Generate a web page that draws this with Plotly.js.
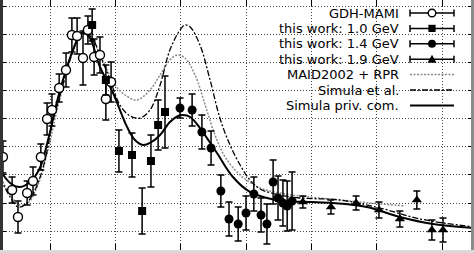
<!DOCTYPE html>
<html>
<head>
<meta charset="utf-8">
<script src="https://cdn.plot.ly/plotly-3.0.1.min.js"></script>
<style>
  html, body { margin: 0; padding: 0; background: #fff; }
  #chart { width: 474px; height: 253px; }
</style>
</head>
<body>
<div id="chart"></div>
<script>
// Photon energy (MeV) and helicity difference sigma_3/2 - sigma_1/2 (microbarn)

// GDH-MAMI
const mamiE   = [56, 84, 102, 130, 148, 172, 191, 206, 228, 249, 267, 283, 301, 316, 335, 353, 371, 387];
const mamiS   = [81.8, 23.1, -24.9, 17.8, 39.1, 81.8, 149.3, 165.3, 204.4, 236.4, 298.7, 296.9, 257.8, 307.6, 259.6, 263.1, 184.9, 215.1];
const mamiErr = [28.4, 23.1, 28.4, 21.3, 24.9, 23.1, 28.4, 28.4, 24.9, 30.2, 30.2, 32.0, 48.0, 24.9, 32.0, 32.0, 37.3, 35.6];

// this work: 1.0 GeV
const w10E   = [329, 371, 411, 451, 482, 509, 531, 552];
const w10S   = [316.4, 218.7, 92.4, 85.3, -14.2, 74.7, 138.7, 161.8];
const w10Err = [28.4, 26.7, 37.3, 39.1, 40.9, 46.2, 44.4, 64.0];

// this work: 1.4 GeV
const w14E   = [598, 635, 665, 693, 723, 748, 776, 800, 824, 846, 864, 883, 898, 913, 926, 941];
const w14S   = [168.9, 165.3, 126.2, 97.8, 21.3, -28.4, -37.3, -17.8, 16.0, -21.3, -37.3, 37.3, 8.9, 0.0, -5.3, 3.6];
const w14Err = [17.8, 28.4, 30.2, 30.2, 28.4, 30.2, 30.2, 30.2, 30.2, 30.2, 35.6, 39.1, 39.1, 40.9, 44.4, 51.6];

// this work: 1.9 GeV
const w19E   = [974, 1060, 1137, 1207, 1271, 1323, 1369, 1403];
const w19S   = [1.8, -7.1, 0.0, -12.4, -28.4, 5.3, -48.0, -48.0];
const w19Err = [10.7, 12.4, 12.4, 14.2, 14.2, 16.0, 17.8, 21.3];

// MAID2002 + RPR
const maidE = [47, 78, 108, 133, 163, 194, 218, 246, 277, 307, 338, 368, 399, 430, 466, 506, 537, 567, 589, 613, 644, 675, 705, 736, 782, 843, 904, 965, 1088, 1180, 1287];
const maidS = [49.8, 14.2, -3.6, 0.0, 32.0, 94.2, 156.4, 218.7, 280.9, 302.2, 280.9, 245.3, 209.8, 192.0, 183.1, 200.9, 227.6, 254.2, 263.1, 257.8, 227.6, 174.2, 120.9, 81.8, 49.8, 26.7, 17.8, 12.4, 5.3, 0.0, -5.3];

// Simula et al.
const simE = [47, 78, 102, 123, 154, 185, 206, 231, 261, 286, 307, 329, 353, 384, 414, 445, 476, 506, 537, 567, 598, 613, 629, 659, 690, 720, 751, 782, 812, 843, 904, 965, 1088, 1210, 1333, 1498];
const simS = [44.4, 10.7, -7.1, -3.6, 23.1, 76.4, 138.7, 192.0, 254.2, 289.8, 302.2, 293.3, 263.1, 218.7, 174.2, 154.7, 151.1, 165.3, 209.8, 272.0, 307.6, 316.4, 312.9, 280.9, 218.7, 151.1, 103.1, 67.6, 40.9, 24.9, 14.2, 8.9, 5.3, -8.9, -28.4, -42.7];

// Simula priv. com.
const privE = [47, 78, 108, 139, 169, 194, 225, 252, 283, 301, 322, 353, 393, 436, 460, 485, 506, 537, 567, 592, 607, 629, 659, 711, 760, 812, 864, 913, 996, 1066, 1170, 1271, 1372, 1498];
const privS = [58.7, 35.6, 28.4, 37.3, 62.2, 112.0, 188.4, 241.8, 289.8, 304.0, 293.3, 241.8, 195.6, 135.1, 112.0, 103.1, 106.7, 120.9, 144.0, 154.7, 156.4, 152.9, 133.3, 88.9, 46.2, 19.6, 8.9, 3.6, 1.8, 0.0, -7.1, -24.9, -37.3, -44.4];

const legendLabels = ['GDH-MAMI', 'this work: 1.0 GeV', 'this work: 1.4 GeV', 'this work: 1.9 GeV',
                      'MAID2002 + RPR', 'Simula et al.', 'Simula priv. com.'];

const W = 474, H = 253, MB = 3;
const PH = H - MB;            // plot-area height in px
const px = v => v / W;        // page px -> paper x
const py = v => 1 - v / PH;   // page px -> paper y

function errTrace(x, y, e, marker) {
  return {
    x: x, y: y, type: 'scatter', mode: 'markers', showlegend: false,
    marker: marker,
    error_y: { type: 'data', array: e, visible: true, color: '#000', thickness: 1.5, width: 3.5 }
  };
}

const traces = [
  { x: maidE, y: maidS, type: 'scatter', mode: 'lines', showlegend: false,
    line: { color: '#8a8a8a', width: 1.5, dash: '2px,1.5px', shape: 'spline', smoothing: 1 } },
  { x: simE, y: simS, type: 'scatter', mode: 'lines', showlegend: false,
    line: { color: '#000', width: 1.3, dash: '6px,2px,2px,2px', shape: 'spline', smoothing: 1 } },
  { x: privE, y: privS, type: 'scatter', mode: 'lines', showlegend: false,
    line: { color: '#000', width: 2, shape: 'spline', smoothing: 1 } },
  errTrace(mamiE, mamiS, mamiErr, { symbol: 'circle', size: 9, color: '#fff', line: { color: '#000', width: 1.4 } }),
  errTrace(w10E, w10S, w10Err, { symbol: 'square', size: 8, color: '#000' }),
  errTrace(w14E, w14S, w14Err, { symbol: 'circle', size: 9, color: '#000' }),
  errTrace(w19E, w19S, w19Err, { symbol: 'triangle-up', size: 9, color: '#000' })
];

// key drawn by hand: label on the left, sample on the right
const shapes = [];
const annotations = [];
shapes.push({ type: 'rect', layer: 'between', xref: 'paper', yref: 'paper',
  x0: px(230), x1: px(462), y0: py(112), y1: py(-2), fillcolor: '#fff', line: { width: 0 } });

const rowY = k => 13 + 15.4 * k;
const kx0 = 410, kx1 = 454, kxm = 432;
legendLabels.forEach((lab, k) => {
  const y = rowY(k);
  annotations.push({ xref: 'paper', yref: 'paper', x: px(400), y: py(y), xanchor: 'right', yanchor: 'middle',
    text: lab, showarrow: false, borderpad: 0,
    font: { family: 'DejaVu Sans, sans-serif', size: 13, color: '#000' } });
  let line = { color: '#000', width: 1.5 };
  if (k === 4) line = { color: '#8a8a8a', width: 1.5, dash: '2px,1.5px' };
  if (k === 5) line = { color: '#000', width: 1.3, dash: '6px,2px,2px,2px' };
  if (k === 6) line = { color: '#000', width: 2 };
  shapes.push({ type: 'line', layer: 'above', xref: 'paper', yref: 'paper',
    x0: px(kx0), x1: px(kx1), y0: py(y), y1: py(y), line: line });
  if (k < 4) {
    [kx0, kx1].forEach(cx => shapes.push({ type: 'line', layer: 'above', xref: 'paper', yref: 'paper',
      x0: px(cx), x1: px(cx), y0: py(y - 3.5), y1: py(y + 3.5), line: { color: '#000', width: 1.5 } }));
    const base = { layer: 'above', xref: 'paper', yref: 'paper', xsizemode: 'pixel', ysizemode: 'pixel',
      xanchor: px(kxm), yanchor: py(y) };
    if (k === 0) shapes.push(Object.assign({ type: 'circle', x0: -3.8, x1: 3.8, y0: -3.8, y1: 3.8,
      fillcolor: '#fff', line: { color: '#000', width: 1.4 } }, base));
    if (k === 1) shapes.push(Object.assign({ type: 'rect', x0: -3.6, x1: 3.6, y0: -3.6, y1: 3.6,
      fillcolor: '#000', line: { width: 0 } }, base));
    if (k === 2) shapes.push(Object.assign({ type: 'circle', x0: -4, x1: 4, y0: -4, y1: 4,
      fillcolor: '#000', line: { width: 0 } }, base));
    if (k === 3) shapes.push(Object.assign({ type: 'path', path: 'M -4.5,-3.5 L 4.5,-3.5 L 0,4.5 Z',
      fillcolor: '#000', line: { width: 0 } }, base));
  }
});

// frame: heavy left edge, grey right edge, light strip along the bottom
shapes.push({ type: 'rect', layer: 'above', xref: 'paper', yref: 'paper',
  x0: px(0), x1: px(3), y0: py(253), y1: 1, fillcolor: '#333', line: { width: 0 } });
shapes.push({ type: 'rect', layer: 'above', xref: 'paper', yref: 'paper',
  x0: px(471), x1: px(474), y0: py(253), y1: 1, fillcolor: '#8c8c8c', line: { width: 0 } });
shapes.push({ type: 'rect', layer: 'above', xref: 'paper', yref: 'paper',
  x0: 0, x1: 1, y0: py(253), y1: py(250), fillcolor: '#dadada', line: { width: 0 } });

const axisCommon = {
  showticklabels: false, ticks: 'inside', ticklen: 6, tickwidth: 1, tickcolor: '#000',
  mirror: 'ticks', showline: false, zeroline: false,
  showgrid: true, gridcolor: '#444', gridwidth: 1, griddash: '1px,2px'
};

const layout = {
  width: W, height: H,
  margin: { l: 0, r: 0, t: 0, b: MB, pad: 0 },
  paper_bgcolor: '#fff', plot_bgcolor: '#fff',
  showlegend: false,
  xaxis: Object.assign({}, axisCommon, { range: [46.94, 1497.9], tick0: 200, dtick: 200 }),
  yaxis: Object.assign({}, axisCommon, { range: [-83.56, 360.9], tick0: 0, dtick: 50 }),
  shapes: shapes,
  annotations: annotations
};

Plotly.newPlot('chart', traces, layout, { staticPlot: true, displayModeBar: false });
</script>
</body>
</html>
